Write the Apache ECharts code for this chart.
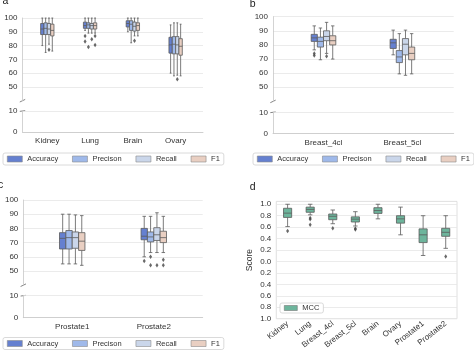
<!DOCTYPE html>
<html>
<head>
<meta charset="utf-8">
<title>scores</title>
<style>
html, body, #main { margin: 0; padding: 0; width: 474px; height: 351px; background: #fff; }
</style>
<script src="https://cdn.jsdelivr.net/npm/echarts@6/dist/echarts.min.js"></script>
</head>
<body>
<div id="main"></div>
<script>
var metrics = ['Accuracy', 'Precison', 'Recall', 'F1'];
var metricColors = ['#6580d0', '#9fb9ea', '#cad6ea', '#e9cfc2'];

// boxes are [low whisker, q1, median, q3, high whisker], one per dataset
var catsA = ['Kidney', 'Lung', 'Brain', 'Ovary'];
var accA = [[80, 88, 92, 96, 100], [91, 92.5, 94.5, 97, 100], [90, 93.5, 96, 98, 100], [60, 74.5, 80.5, 86, 95]];
var precA = [[75, 88, 92.5, 96.5, 100], [89, 92.5, 95, 96.5, 100], [82, 91, 95.5, 98, 100], [58, 74, 81, 86.5, 96.5]];
var recA = [[81, 88, 92, 96, 100], [89, 92, 94.5, 96, 100], [87, 90.5, 94, 97, 100], [58.5, 74, 80.5, 86.5, 96.5]];
var f1A = [[76, 87, 91, 95.5, 100], [89, 92, 94.5, 96.5, 100], [87, 91, 94.5, 96.5, 100], [58, 73, 79.5, 85, 95.5]];
// outliers: [dataset, metric, value]
var outA = [[0, 2, 77], [1, 0, 87], [1, 0, 83], [1, 1, 79], [1, 2, 84.5], [1, 3, 87], [1, 3, 80.5], [2, 2, 83.5], [3, 2, 55.5]];

var catsB = ['Breast_4cl', 'Breast_5cl'];
var accB = [[76.5, 82.5, 85, 87.5, 93.5], [73, 77.5, 81.5, 84, 90.5]];
var precB = [[69.5, 78.5, 82.5, 85.5, 92], [59.5, 67.5, 71.5, 76, 88]];
var recB = [[74, 83, 86, 90, 96], [58.5, 73, 80.5, 84.5, 90.5]];
var f1B = [[70, 80, 83, 86.5, 93.5], [59.5, 69.5, 74, 78.5, 88]];
var outB = [[0, 0, 74], [0, 0, 72.5], [0, 2, 72]];

var catsC = ['Prostate1', 'Prostate2'];
var accC = [[55, 65.5, 73, 77, 90], [60, 72, 74.5, 80, 88.5]];
var precC = [[55, 65.5, 73.5, 78.5, 90], [63, 70.5, 74, 77.5, 88.5]];
var recC = [[55, 66, 73.5, 77.5, 89.5], [63, 71.5, 75.5, 80.5, 91]];
var f1C = [[54, 64.5, 71, 77, 89], [63, 70, 73.5, 78, 88.5]];
var outC = [[1, 0, 57], [1, 1, 60], [1, 1, 54], [1, 2, 54], [1, 3, 58], [1, 3, 54]];

var catsD = ['Kidney', 'Lung', 'Breast_4cl', 'Breast_5cl', 'Brain', 'Ovary', 'Prostate1', 'Prostate2'];
var mccD = [[0.61, 0.77, 0.845, 0.93, 1.0], [0.815, 0.86, 0.91, 0.95, 1.0], [0.66, 0.73, 0.79, 0.83, 0.9],
	[0.62, 0.69, 0.74, 0.78, 0.87], [0.745, 0.84, 0.89, 0.94, 1.0], [0.466, 0.67, 0.745, 0.8, 0.95],
	[0.105, 0.33, 0.466, 0.57, 0.8], [0.23, 0.44, 0.51, 0.58, 0.8]];
var outD = [[0, 0.535], [1, 0.76], [1, 0.74], [1, 0.64], [2, 0.58], [3, 0.575], [3, 0.56], [7, 0.087]];

var topTicks = [50, 60, 70, 80, 90, 100];
var scoreTicks = [-1, -0.8, -0.6, -0.4, -0.2, 0, 0.2, 0.4, 0.6, 0.8, 1];

var FONT = "'Liberation Sans', Arial, sans-serif";
var TXT = '#333';
var GRIDC = '#e6e6e6';
var AXC = '#c8c8c8';
var EDGE = '#5a5a5a';
var W = 0.078;

// layout of the split panels: upper part 40..100, lower part 0..10
var layout = [
	{ left: 22.5, width: 180.5, top: 18, topH: 82.7, botTop: 111, botH: 21, xMin: -0.58, xMax: 3.64, cats: catsA },
	{ left: 273, width: 180.7, top: 16.7, topH: 84.7, botTop: 112.3, botH: 21, xMin: -0.64, xMax: 1.65, cats: catsB },
	{ left: 23.3, width: 179.4, top: 200, topH: 85.2, botTop: 295.7, botH: 22, xMin: -0.6, xMax: 1.6, cats: catsC }
];

function renderBox(w, shift) {
	return function (params, api) {
		var x = api.value(0) + shift;
		var l = api.coord([x - w / 2, api.value(3)]);
		var r = api.coord([x + w / 2, api.value(3)]);
		var cx = (l[0] + r[0]) / 2;
		var hw = (r[0] - l[0]) / 2;
		var cap = hw * 0.55;
		var yLo = api.coord([x, api.value(1)])[1];
		var yQ1 = api.coord([x, api.value(2)])[1];
		var yMd = l[1];
		var yQ3 = api.coord([x, api.value(4)])[1];
		var yHi = api.coord([x, api.value(5)])[1];
		var ls = { stroke: EDGE, lineWidth: 0.8 };
		return {
			type: 'group',
			children: [
				{ type: 'line', shape: { x1: cx, y1: yLo, x2: cx, y2: yQ1 }, style: ls },
				{ type: 'line', shape: { x1: cx, y1: yQ3, x2: cx, y2: yHi }, style: ls },
				{ type: 'line', shape: { x1: cx - cap, y1: yLo, x2: cx + cap, y2: yLo }, style: ls },
				{ type: 'line', shape: { x1: cx - cap, y1: yHi, x2: cx + cap, y2: yHi }, style: ls },
				{ type: 'rect', shape: { x: cx - hw, y: yQ3, width: hw * 2, height: yQ1 - yQ3 },
					style: { fill: api.visual('color'), stroke: EDGE, lineWidth: 0.8 } },
				{ type: 'line', shape: { x1: cx - hw, y1: yMd, x2: cx + hw, y2: yMd }, style: ls }
			]
		};
	};
}

function boxSeries(name, boxes, axisIdx, color, w, shift) {
	return {
		name: name,
		type: 'custom',
		xAxisIndex: axisIdx,
		yAxisIndex: axisIdx,
		itemStyle: { color: color },
		encode: { x: 0, y: [1, 2, 3, 4, 5] },
		data: boxes.map(function (b, i) { return [i].concat(b); }),
		renderItem: renderBox(w, shift)
	};
}

function outlierSeries(name, pts, axisIdx) {
	return {
		name: name,
		type: 'scatter',
		silent: true,
		xAxisIndex: axisIdx,
		yAxisIndex: axisIdx,
		symbol: 'diamond',
		symbolSize: [3, 4.5],
		itemStyle: { color: '#444' },
		data: pts
	};
}

var grids = [], xAxes = [], yAxes = [], series = [], graphics = [];
var labelStyle = { fontSize: 8, color: TXT, fontFamily: FONT };

layout.forEach(function (p, k) {
	var topBottom = p.top + p.topH;
	grids.push({ left: p.left, width: p.width, top: p.top, height: p.topH });
	grids.push({ left: p.left, width: p.width, top: p.botTop, height: p.botH });
	// upper part
	xAxes.push({ gridIndex: 2 * k, type: 'value', min: p.xMin, max: p.xMax, show: false });
	yAxes.push({
		gridIndex: 2 * k, type: 'value', min: 40, max: 100,
		axisLine: { show: true, onZero: false, lineStyle: { color: AXC, width: 0.8 } },
		axisTick: { show: false, customValues: topTicks },
		axisLabel: Object.assign({ margin: 5, customValues: topTicks }, labelStyle),
		splitLine: { lineStyle: { color: GRIDC, width: 0.8 } }
	});
	// lower part
	xAxes.push({
		gridIndex: 2 * k + 1, type: 'value', min: p.xMin, max: p.xMax,
		axisLine: { show: true, onZero: false, lineStyle: { color: AXC, width: 0.8 } },
		axisTick: { show: false, customValues: p.cats.map(function (c, i) { return i; }) },
		splitLine: { show: false },
		axisLabel: Object.assign({
			margin: 5,
			customValues: p.cats.map(function (c, i) { return i; }),
			formatter: (function (cats) { return function (v) { return cats[Math.round(v)]; }; })(p.cats)
		}, labelStyle)
	});
	yAxes.push({
		gridIndex: 2 * k + 1, type: 'value', min: 0, max: 10, interval: 10,
		axisLine: { show: true, onZero: false, lineStyle: { color: AXC, width: 0.8 } },
		axisTick: { show: false },
		axisLabel: Object.assign({ margin: 5 }, labelStyle),
		splitLine: { lineStyle: { color: GRIDC, width: 0.8 } }
	});
	// break marks
	graphics.push({ type: 'line', shape: { x1: p.left - 2.7, y1: topBottom + 1.3, x2: p.left + 2.7, y2: topBottom - 1.3 },
		style: { stroke: '#666', lineWidth: 0.8 } });
	graphics.push({ type: 'line', shape: { x1: p.left - 2.7, y1: p.botTop + 0.35, x2: p.left + 2.7, y2: p.botTop - 0.35 },
		style: { stroke: '#666', lineWidth: 0.8 } });
});

var groups = [[accA, precA, recA, f1A, outA], [accB, precB, recB, f1B, outB], [accC, precC, recC, f1C, outC]];
groups.forEach(function (g, k) {
	for (var m = 0; m < 4; m++) {
		series.push(boxSeries(metrics[m], g[m], 2 * k, metricColors[m], W, (m - 1.5) * W));
	}
	series.push(outlierSeries('out' + k, g[4].map(function (o) { return [o[0] + (o[1] - 1.5) * W, o[2]]; }), 2 * k));
});

// panel d
grids.push({ left: 276.3, width: 180.7, top: 201.4, height: 117.6, show: true, borderColor: '#d8d8d8', borderWidth: 0.8 });
xAxes.push({
	gridIndex: 6, type: 'value', min: -0.5, max: 7.5,
	axisLine: { show: false, onZero: false }, axisTick: { show: false, customValues: catsD.map(function (c, i) { return i; }) },
	splitLine: { show: false },
	axisLabel: Object.assign({
		margin: 4, rotate: 38,
		customValues: catsD.map(function (c, i) { return i; }),
		formatter: function (v) { return catsD[Math.round(v)]; }
	}, labelStyle)
});
yAxes.push({
	gridIndex: 6, type: 'value', min: -1, max: 1.05,
	name: 'Score', nameLocation: 'middle', nameGap: 22,
	nameTextStyle: { fontSize: 8.5, color: TXT, fontFamily: FONT },
	axisLine: { show: false, onZero: false },
	axisTick: { show: false, customValues: scoreTicks },
	axisLabel: Object.assign({ margin: 5, customValues: scoreTicks,
		formatter: function (v) { return Math.abs(v).toFixed(1); } }, labelStyle),
	splitLine: { lineStyle: { color: GRIDC, width: 0.8 } }
});
series.push(boxSeries('MCC', mccD, 6, '#6db59c', 0.36, 0));
series.push(outlierSeries('outD', outD, 6));

function legendFor(left, top) {
	return {
		left: left, top: top, width: 240, orient: 'horizontal',
		data: metrics.map(function (m, i) {
			return { name: m, itemStyle: { color: metricColors[i], borderColor: '#8a8a8a', borderWidth: 0.6 } };
		}),
		icon: 'rect', itemWidth: 15, itemHeight: 6, itemGap: 14,
		padding: [2, 4], borderColor: '#d0d0d0', borderWidth: 0.8, borderRadius: 2,
		textStyle: { fontSize: 7.5, color: TXT, fontFamily: FONT },
		selectedMode: false
	};
}

var legends = [legendFor(3, 153), legendFor(253, 153), legendFor(3, 337.5), {
	left: 280, top: 303,
	data: [{ name: 'MCC', itemStyle: { color: '#6db59c', borderColor: '#777', borderWidth: 0.6 } }],
	icon: 'rect', itemWidth: 13, itemHeight: 5,
	padding: [1, 4], borderColor: '#d0d0d0', borderWidth: 0.8, borderRadius: 2, backgroundColor: '#fff',
	textStyle: { fontSize: 7.5, color: TXT, fontFamily: FONT },
	selectedMode: false
}];

var letters = [['a', 2.5, 1.4], ['b', 249.7, 3.9], ['c', -2, 184.9], ['d', 249.7, 187.4]];
letters.forEach(function (t) {
	graphics.push({ type: 'text', x: t[1], y: t[2],
		style: { text: t[0], font: '10.5px ' + FONT, fill: '#222', verticalAlign: 'middle', align: 'left' } });
});

var chart = echarts.init(document.getElementById('main'), null, { renderer: 'canvas' });
chart.setOption({
	animation: false,
	backgroundColor: '#fff',
	textStyle: { fontFamily: FONT },
	grid: grids,
	xAxis: xAxes,
	yAxis: yAxes,
	legend: legends,
	series: series,
	graphic: graphics
});
</script>
</body>
</html>
